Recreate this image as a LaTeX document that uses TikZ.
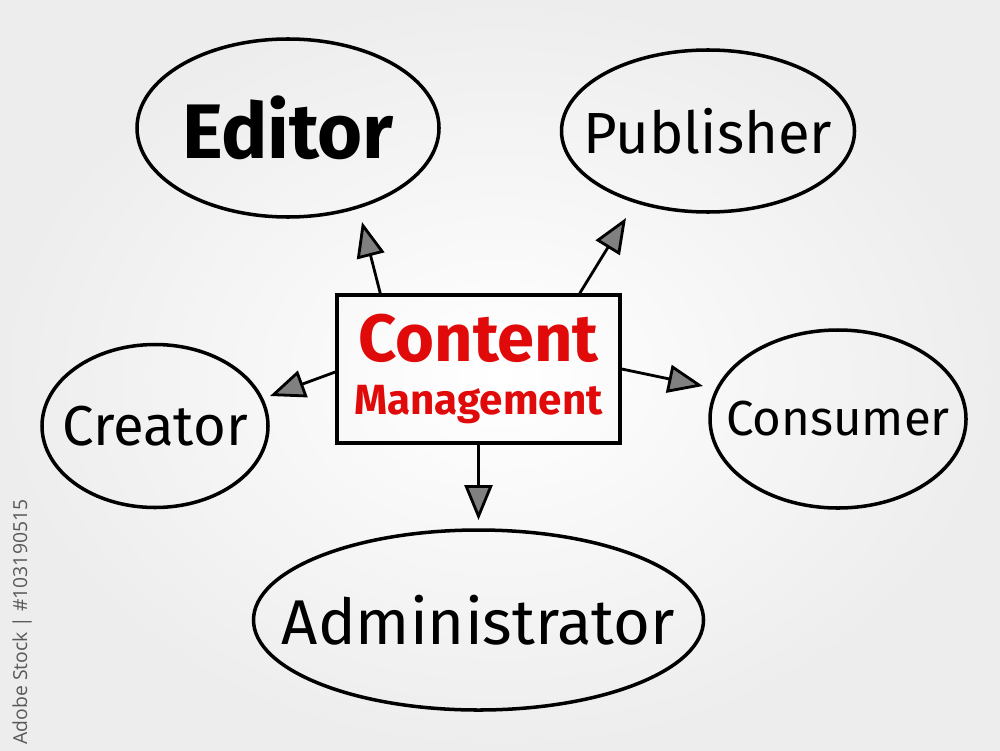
\documentclass[tikz,border=0pt]{standalone}
\usepackage{fontspec}
\usetikzlibrary{arrows.meta}
\usetikzlibrary{positioning}
\usetikzlibrary{shapes.geometric}
\newfontfamily\handfont{Fira Sans}
\newfontfamily\markfont{Open Sans}
\definecolor{cmred}{RGB}{225,10,10}
\newcommand{\bubtext}[1]{\makebox[0pt]{#1}}
\tikzset{
  bubble/.style={ellipse, draw, line width=1pt, inner sep=0pt},
  hub/.style={rectangle, draw, line width=1pt, minimum width=2.83cm,
    minimum height=1.48cm, align=center, text=cmred, font=\handfont\bfseries},
  link/.style={line width=0.8pt, -{Triangle[length=3.5mm,width=2.8mm,fill=black!50]}},
}

\begin{document}
\begin{tikzpicture}[on grid]
    \shade [inner color=white, outer color=black!7] (0,0) rectangle (10,7.5);
    \useasboundingbox (0,0) rectangle (10,7.5);

    \node [hub] (cm) at (4.785,3.81)
      {\fontsize{19}{20}\selectfont Content\\[3pt]\fontsize{12}{14}\selectfont Management};

    \node [bubble, minimum width=3.02cm, minimum height=1.78cm,
      above left=2.41cm and 1.905cm of cm,
      font=\handfont\bfseries\fontsize{22}{24}\selectfont] (ed) {\bubtext{Editor}};
    \node [bubble, minimum width=2.93cm, minimum height=1.62cm,
      above right=2.38cm and 2.295cm of cm,
      font=\handfont\fontsize{16.5}{18}\selectfont] (pub) {\bubtext{Publisher}};
    \node [bubble, minimum width=2.26cm, minimum height=1.63cm,
      below left=0.57cm and 3.235cm of cm,
      font=\handfont\fontsize{16}{18}\selectfont] (cre) {\bubtext{Creator}};
    \node [bubble, minimum width=2.56cm, minimum height=1.78cm,
      below right=0.50cm and 3.595cm of cm,
      font=\handfont\fontsize{14}{16}\selectfont] (con) {\bubtext{Consumer}};
    \node [bubble, minimum width=4.5cm, minimum height=1.8cm,
      below=2.51cm of cm,
      font=\handfont\fontsize{18}{20}\selectfont] (adm) {\bubtext{Administrator}};

    \coordinate [above left=1.47cm and 1.165cm of cm] (t1);
    \coordinate [above right=1.51cm and 1.475cm of cm] (t2);
    \coordinate [below left=0.27cm and 2.085cm of cm] (t3);
    \coordinate [below right=0.17cm and 2.245cm of cm] (t4);
    \coordinate [below=1.51cm of cm] (t5);

    \draw [link] ([xshift=0.45cm]cm.north west) -- (t1);
    \draw [link] ([xshift=-0.42cm]cm.north east) -- (t2);
    \draw [link] ([yshift=-0.03cm]cm.west) -- (t3);
    \draw [link] (cm.east) -- (t4);
    \draw [link] (cm.south) -- (t5);

    \node [rotate=90, text=black!65, font=\markfont\fontsize{5.5}{6}\selectfont]
      (stock) at (0.22,1.28) {Adobe Stock | \#103190515};
\end{tikzpicture}
\end{document}
